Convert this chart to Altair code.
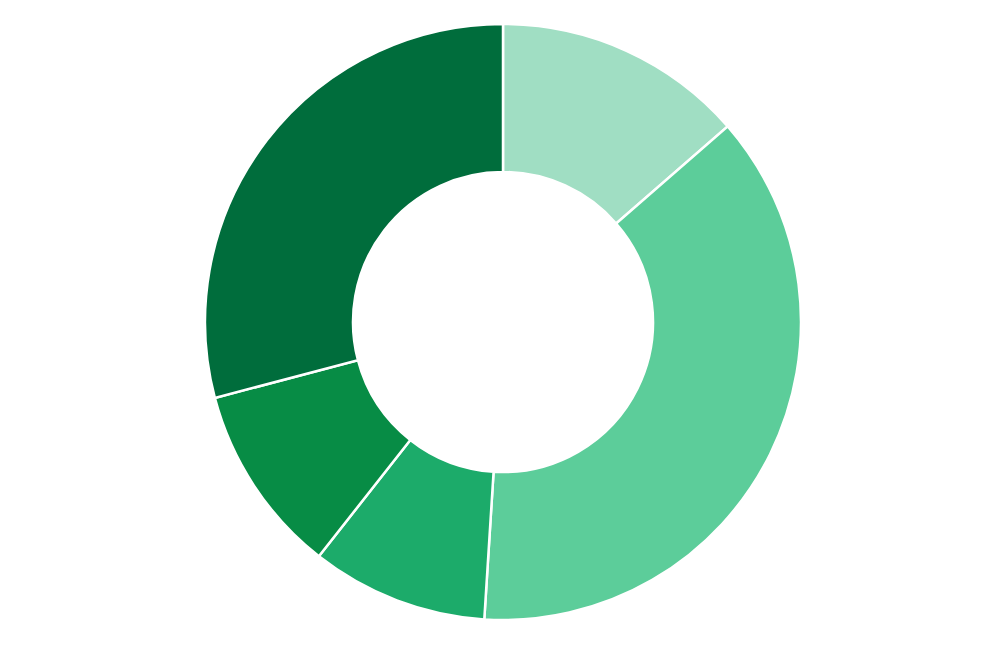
import altair as alt
import pandas as pd

categories = ["A", "B", "C", "D", "E"]
values = [13.6, 37.4, 9.6, 10.3, 29.1]
colors = ["#a0dec3", "#5ccd9a", "#1cab6a", "#078c45", "#006d3c"]

df = pd.DataFrame({"category": categories, "value": values, "order": list(range(len(categories)))})

chart = alt.Chart(df).mark_arc(
    outerRadius=298, innerRadius=150, stroke="white", strokeWidth=2.5
).encode(
    theta=alt.Theta("value:Q", stack=True),
    color=alt.Color("category:N", scale=alt.Scale(domain=categories, range=colors), legend=None),
    order=alt.Order("order:Q"),
).properties(
    width=990, height=628, padding=0
).configure_view(strokeWidth=0)

chart.save("out.html", embed_options={"renderer": "svg", "actions": False})
